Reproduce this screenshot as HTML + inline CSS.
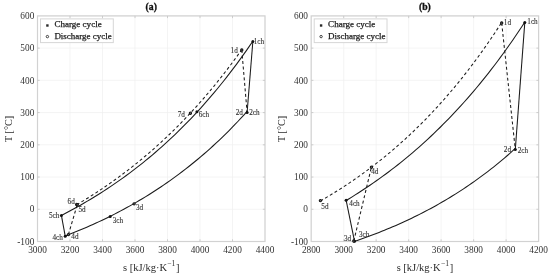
<!DOCTYPE html>
<html><head><meta charset="utf-8"><style>
html,body{margin:0;padding:0;background:#fff;}
svg{display:block;}
text{font-family:"Liberation Serif","DejaVu Serif",serif;fill:#333;}
.tl{font-size:9.3px;fill:#333;}
.lg{font-size:8.9px;fill:#1a1a1a;stroke:#1a1a1a;stroke-width:0.25px;}
.pl{font-size:7.2px;fill:#2e2e2e;stroke:#2e2e2e;stroke-width:0.1px;}
.tt{font-size:9.3px;font-weight:bold;fill:#111;stroke:#111;stroke-width:0.3px;}
.al{font-size:10.2px;fill:#2a2a2a;}
.sup{font-size:7.6px;}
</style></head><body>
<svg width="550" height="277" viewBox="0 0 550 277">
<rect width="550" height="277" fill="#fff"/>
<g stroke="#efefef" stroke-width="0.7"><line x1="37.50" y1="15.90" x2="37.50" y2="241.50"/><line x1="37.50" y1="15.90" x2="265.00" y2="15.90"/><line x1="70.00" y1="15.90" x2="70.00" y2="241.50"/><line x1="37.50" y1="48.13" x2="265.00" y2="48.13"/><line x1="102.50" y1="15.90" x2="102.50" y2="241.50"/><line x1="37.50" y1="80.36" x2="265.00" y2="80.36"/><line x1="135.00" y1="15.90" x2="135.00" y2="241.50"/><line x1="37.50" y1="112.59" x2="265.00" y2="112.59"/><line x1="167.50" y1="15.90" x2="167.50" y2="241.50"/><line x1="37.50" y1="144.81" x2="265.00" y2="144.81"/><line x1="200.00" y1="15.90" x2="200.00" y2="241.50"/><line x1="37.50" y1="177.04" x2="265.00" y2="177.04"/><line x1="232.50" y1="15.90" x2="232.50" y2="241.50"/><line x1="37.50" y1="209.27" x2="265.00" y2="209.27"/><line x1="265.00" y1="15.90" x2="265.00" y2="241.50"/><line x1="37.50" y1="241.50" x2="265.00" y2="241.50"/></g>
<g stroke="#efefef" stroke-width="0.7"><line x1="311.20" y1="15.90" x2="311.20" y2="241.50"/><line x1="311.20" y1="15.90" x2="538.60" y2="15.90"/><line x1="343.69" y1="15.90" x2="343.69" y2="241.50"/><line x1="311.20" y1="48.13" x2="538.60" y2="48.13"/><line x1="376.17" y1="15.90" x2="376.17" y2="241.50"/><line x1="311.20" y1="80.36" x2="538.60" y2="80.36"/><line x1="408.66" y1="15.90" x2="408.66" y2="241.50"/><line x1="311.20" y1="112.59" x2="538.60" y2="112.59"/><line x1="441.14" y1="15.90" x2="441.14" y2="241.50"/><line x1="311.20" y1="144.81" x2="538.60" y2="144.81"/><line x1="473.63" y1="15.90" x2="473.63" y2="241.50"/><line x1="311.20" y1="177.04" x2="538.60" y2="177.04"/><line x1="506.11" y1="15.90" x2="506.11" y2="241.50"/><line x1="311.20" y1="209.27" x2="538.60" y2="209.27"/><line x1="538.60" y1="15.90" x2="538.60" y2="241.50"/><line x1="311.20" y1="241.50" x2="538.60" y2="241.50"/></g>
<rect x="37.50" y="15.90" width="227.50" height="225.60" fill="none" stroke="#d2d2d2" stroke-width="1.2"/>
<rect x="311.20" y="15.90" width="227.40" height="225.60" fill="none" stroke="#d2d2d2" stroke-width="1.2"/>
<g stroke="#c4c4c4" stroke-width="0.8"><line x1="70.00" y1="241.50" x2="70.00" y2="239.30"/><line x1="70.00" y1="15.90" x2="70.00" y2="18.10"/><line x1="37.50" y1="48.13" x2="39.70" y2="48.13"/><line x1="265.00" y1="48.13" x2="262.80" y2="48.13"/><line x1="102.50" y1="241.50" x2="102.50" y2="239.30"/><line x1="102.50" y1="15.90" x2="102.50" y2="18.10"/><line x1="37.50" y1="80.36" x2="39.70" y2="80.36"/><line x1="265.00" y1="80.36" x2="262.80" y2="80.36"/><line x1="135.00" y1="241.50" x2="135.00" y2="239.30"/><line x1="135.00" y1="15.90" x2="135.00" y2="18.10"/><line x1="37.50" y1="112.59" x2="39.70" y2="112.59"/><line x1="265.00" y1="112.59" x2="262.80" y2="112.59"/><line x1="167.50" y1="241.50" x2="167.50" y2="239.30"/><line x1="167.50" y1="15.90" x2="167.50" y2="18.10"/><line x1="37.50" y1="144.81" x2="39.70" y2="144.81"/><line x1="265.00" y1="144.81" x2="262.80" y2="144.81"/><line x1="200.00" y1="241.50" x2="200.00" y2="239.30"/><line x1="200.00" y1="15.90" x2="200.00" y2="18.10"/><line x1="37.50" y1="177.04" x2="39.70" y2="177.04"/><line x1="265.00" y1="177.04" x2="262.80" y2="177.04"/><line x1="232.50" y1="241.50" x2="232.50" y2="239.30"/><line x1="232.50" y1="15.90" x2="232.50" y2="18.10"/><line x1="37.50" y1="209.27" x2="39.70" y2="209.27"/><line x1="265.00" y1="209.27" x2="262.80" y2="209.27"/></g>
<g stroke="#c4c4c4" stroke-width="0.8"><line x1="343.69" y1="241.50" x2="343.69" y2="239.30"/><line x1="343.69" y1="15.90" x2="343.69" y2="18.10"/><line x1="311.20" y1="48.13" x2="313.40" y2="48.13"/><line x1="538.60" y1="48.13" x2="536.40" y2="48.13"/><line x1="376.17" y1="241.50" x2="376.17" y2="239.30"/><line x1="376.17" y1="15.90" x2="376.17" y2="18.10"/><line x1="311.20" y1="80.36" x2="313.40" y2="80.36"/><line x1="538.60" y1="80.36" x2="536.40" y2="80.36"/><line x1="408.66" y1="241.50" x2="408.66" y2="239.30"/><line x1="408.66" y1="15.90" x2="408.66" y2="18.10"/><line x1="311.20" y1="112.59" x2="313.40" y2="112.59"/><line x1="538.60" y1="112.59" x2="536.40" y2="112.59"/><line x1="441.14" y1="241.50" x2="441.14" y2="239.30"/><line x1="441.14" y1="15.90" x2="441.14" y2="18.10"/><line x1="311.20" y1="144.81" x2="313.40" y2="144.81"/><line x1="538.60" y1="144.81" x2="536.40" y2="144.81"/><line x1="473.63" y1="241.50" x2="473.63" y2="239.30"/><line x1="473.63" y1="15.90" x2="473.63" y2="18.10"/><line x1="311.20" y1="177.04" x2="313.40" y2="177.04"/><line x1="538.60" y1="177.04" x2="536.40" y2="177.04"/><line x1="506.11" y1="241.50" x2="506.11" y2="239.30"/><line x1="506.11" y1="15.90" x2="506.11" y2="18.10"/><line x1="311.20" y1="209.27" x2="313.40" y2="209.27"/><line x1="538.60" y1="209.27" x2="536.40" y2="209.27"/></g>
<g class="tl"><text x="37.50" y="253.10" text-anchor="middle">3000</text><text x="70.00" y="253.10" text-anchor="middle">3200</text><text x="102.50" y="253.10" text-anchor="middle">3400</text><text x="135.00" y="253.10" text-anchor="middle">3600</text><text x="167.50" y="253.10" text-anchor="middle">3800</text><text x="200.00" y="253.10" text-anchor="middle">4000</text><text x="232.50" y="253.10" text-anchor="middle">4200</text><text x="265.00" y="253.10" text-anchor="middle">4400</text><text x="34.30" y="19.10" text-anchor="end">600</text><text x="34.30" y="51.33" text-anchor="end">500</text><text x="34.30" y="83.56" text-anchor="end">400</text><text x="34.30" y="115.79" text-anchor="end">300</text><text x="34.30" y="148.01" text-anchor="end">200</text><text x="34.30" y="180.24" text-anchor="end">100</text><text x="34.30" y="212.47" text-anchor="end">0</text><text x="34.30" y="244.70" text-anchor="end">-100</text></g>
<g class="tl"><text x="311.20" y="253.10" text-anchor="middle">2800</text><text x="343.69" y="253.10" text-anchor="middle">3000</text><text x="376.17" y="253.10" text-anchor="middle">3200</text><text x="408.66" y="253.10" text-anchor="middle">3400</text><text x="441.14" y="253.10" text-anchor="middle">3600</text><text x="473.63" y="253.10" text-anchor="middle">3800</text><text x="506.11" y="253.10" text-anchor="middle">4000</text><text x="538.60" y="253.10" text-anchor="middle">4200</text><text x="308.00" y="19.10" text-anchor="end">600</text><text x="308.00" y="51.33" text-anchor="end">500</text><text x="308.00" y="83.56" text-anchor="end">400</text><text x="308.00" y="115.79" text-anchor="end">300</text><text x="308.00" y="148.01" text-anchor="end">200</text><text x="308.00" y="180.24" text-anchor="end">100</text><text x="308.00" y="212.47" text-anchor="end">0</text><text x="308.00" y="244.70" text-anchor="end">-100</text></g>
<g fill="none" stroke="#1a1a1a" stroke-width="1.05" stroke-linejoin="round"><path d="M61.40 215.44 L64.64 213.76 L67.89 212.06 L71.13 210.32 L74.38 208.55 L77.62 206.75 L80.87 204.92 L84.11 203.05 L87.36 201.16 L90.60 199.22 L93.85 197.25 L97.09 195.25 L100.34 193.21 L103.58 191.13 L106.83 189.01 L110.07 186.86 L113.32 184.67 L116.56 182.43 L119.81 180.16 L123.05 177.84 L126.30 175.49 L129.54 173.09 L132.79 170.65 L136.03 168.16 L139.28 165.63 L142.52 163.05 L145.77 160.43 L149.01 157.75 L152.26 155.03 L155.50 152.26 L158.75 149.44 L161.99 146.57 L165.24 143.65 L168.48 140.67 L171.73 137.64 L174.97 134.56 L178.22 131.42 L181.46 128.22 L184.71 124.97 L187.95 121.65 L191.20 118.28 L194.44 114.84 L197.69 111.34 L200.93 107.78 L204.18 104.16 L207.42 100.46 L210.67 96.71 L213.91 92.88 L217.16 88.98 L220.40 85.02 L223.65 80.98 L226.89 76.87 L230.14 72.68 L233.38 68.42 L236.63 64.08 L239.87 59.66 L243.12 55.16 L246.36 50.59 L249.61 45.92 L252.85 41.18"/><path d="M65.20 235.97 L68.28 234.78 L71.37 233.57 L74.45 232.34 L77.53 231.09 L80.62 229.81 L83.70 228.51 L86.78 227.18 L89.86 225.83 L92.95 224.46 L96.03 223.06 L99.11 221.64 L102.20 220.19 L105.28 218.71 L108.36 217.20 L111.45 215.67 L114.53 214.11 L117.61 212.52 L120.69 210.90 L123.78 209.26 L126.86 207.58 L129.94 205.87 L133.03 204.13 L136.11 202.36 L139.19 200.55 L142.28 198.71 L145.36 196.84 L148.44 194.94 L151.53 193.00 L154.61 191.02 L157.69 189.01 L160.77 186.96 L163.86 184.87 L166.94 182.75 L170.02 180.58 L173.11 178.38 L176.19 176.13 L179.27 173.85 L182.36 171.52 L185.44 169.15 L188.52 166.74 L191.61 164.28 L194.69 161.77 L197.77 159.23 L200.85 156.63 L203.94 153.99 L207.02 151.29 L210.10 148.55 L213.19 145.76 L216.27 142.92 L219.35 140.02 L222.44 137.08 L225.52 134.07 L228.60 131.02 L231.68 127.90 L234.77 124.73 L237.85 121.50 L240.93 118.22 L244.02 114.87 L247.10 111.46"/><path d="M252.85 41.50 L247.10 112.50"/><path d="M65.20 236.20 L61.40 215.40"/><path d="M346.10 200.53 L349.13 198.69 L352.16 196.83 L355.19 194.93 L358.22 193.00 L361.24 191.05 L364.27 189.06 L367.30 187.04 L370.33 184.99 L373.36 182.90 L376.39 180.78 L379.42 178.63 L382.45 176.44 L385.47 174.22 L388.50 171.96 L391.53 169.67 L394.56 167.33 L397.59 164.97 L400.62 162.56 L403.65 160.11 L406.68 157.63 L409.71 155.10 L412.73 152.53 L415.76 149.93 L418.79 147.28 L421.82 144.59 L424.85 141.85 L427.88 139.07 L430.91 136.25 L433.94 133.38 L436.96 130.46 L439.99 127.50 L443.02 124.49 L446.05 121.43 L449.08 118.33 L452.11 115.17 L455.14 111.96 L458.17 108.70 L461.19 105.39 L464.22 102.02 L467.25 98.60 L470.28 95.13 L473.31 91.60 L476.34 88.01 L479.37 84.36 L482.40 80.66 L485.43 76.90 L488.45 73.07 L491.48 69.19 L494.51 65.24 L497.54 61.23 L500.57 57.15 L503.60 53.01 L506.63 48.80 L509.66 44.53 L512.68 40.18 L515.71 35.77 L518.74 31.28 L521.77 26.73 L524.80 22.10"/><path d="M354.50 241.37 L357.23 240.44 L359.95 239.49 L362.68 238.53 L365.40 237.56 L368.13 236.56 L370.85 235.55 L373.58 234.52 L376.30 233.48 L379.03 232.41 L381.75 231.33 L384.48 230.23 L387.21 229.11 L389.93 227.98 L392.66 226.82 L395.38 225.65 L398.11 224.45 L400.83 223.23 L403.56 222.00 L406.28 220.74 L409.01 219.46 L411.73 218.16 L414.46 216.84 L417.18 215.50 L419.91 214.13 L422.64 212.74 L425.36 211.32 L428.09 209.89 L430.81 208.42 L433.54 206.94 L436.26 205.43 L438.99 203.89 L441.71 202.33 L444.44 200.74 L447.16 199.12 L449.89 197.48 L452.62 195.80 L455.34 194.10 L458.07 192.37 L460.79 190.62 L463.52 188.83 L466.24 187.01 L468.97 185.16 L471.69 183.28 L474.42 181.37 L477.14 179.43 L479.87 177.45 L482.59 175.44 L485.32 173.39 L488.05 171.32 L490.77 169.20 L493.50 167.05 L496.22 164.87 L498.95 162.64 L501.67 160.38 L504.40 158.08 L507.12 155.75 L509.85 153.37 L512.57 150.95 L515.30 148.49"/><path d="M524.80 22.40 L515.30 149.50"/><path d="M354.50 241.20 L346.10 200.20"/></g>
<g fill="none" stroke="#1a1a1a" stroke-width="1.05" stroke-dasharray="3 2.5"><path d="M76.70 204.72 L79.50 203.07 L82.30 201.39 L85.09 199.68 L87.89 197.95 L90.69 196.19 L93.49 194.41 L96.29 192.60 L99.09 190.77 L101.88 188.90 L104.68 187.01 L107.48 185.09 L110.28 183.14 L113.08 181.16 L115.88 179.16 L118.67 177.12 L121.47 175.05 L124.27 172.95 L127.07 170.82 L129.87 168.66 L132.67 166.46 L135.46 164.23 L138.26 161.97 L141.06 159.68 L143.86 157.35 L146.66 154.98 L149.46 152.58 L152.25 150.15 L155.05 147.68 L157.85 145.17 L160.65 142.62 L163.45 140.04 L166.25 137.41 L169.04 134.75 L171.84 132.05 L174.64 129.31 L177.44 126.52 L180.24 123.70 L183.04 120.83 L185.83 117.92 L188.63 114.96 L191.43 111.96 L194.23 108.92 L197.03 105.83 L199.83 102.70 L202.62 99.51 L205.42 96.28 L208.22 93.00 L211.02 89.68 L213.82 86.30 L216.62 82.87 L219.41 79.39 L222.21 75.86 L225.01 72.28 L227.81 68.64 L230.61 64.95 L233.41 61.20 L236.20 57.40 L239.00 53.54 L241.80 49.62"/><path d="M241.80 50.00 L247.10 112.50"/><path d="M68.40 234.60 L77.20 204.80"/><path d="M320.40 200.94 L323.47 199.16 L326.55 197.36 L329.62 195.53 L332.69 193.66 L335.76 191.76 L338.84 189.83 L341.91 187.87 L344.98 185.87 L348.06 183.84 L351.13 181.78 L354.20 179.68 L357.27 177.54 L360.35 175.37 L363.42 173.15 L366.49 170.91 L369.57 168.62 L372.64 166.29 L375.71 163.92 L378.78 161.52 L381.86 159.07 L384.93 156.58 L388.00 154.04 L391.08 151.46 L394.15 148.84 L397.22 146.18 L400.29 143.46 L403.37 140.71 L406.44 137.90 L409.51 135.05 L412.59 132.14 L415.66 129.19 L418.73 126.19 L421.81 123.13 L424.88 120.02 L427.95 116.86 L431.02 113.65 L434.10 110.38 L437.17 107.05 L440.24 103.67 L443.32 100.23 L446.39 96.73 L449.46 93.16 L452.53 89.54 L455.61 85.86 L458.68 82.11 L461.75 78.30 L464.83 74.42 L467.90 70.48 L470.97 66.47 L474.04 62.39 L477.12 58.24 L480.19 54.02 L483.26 49.73 L486.34 45.36 L489.41 40.92 L492.48 36.40 L495.55 31.80 L498.63 27.13 L501.70 22.37"/><path d="M501.70 23.00 L515.30 149.50"/><path d="M353.80 241.00 L371.40 167.20"/></g>
<circle cx="252.85" cy="41.50" r="1.5" fill="#111"/>
<circle cx="241.80" cy="50.00" r="1.15" fill="#777" stroke="#111" stroke-width="1.05"/>
<circle cx="247.10" cy="112.50" r="1.5" fill="#111"/>
<circle cx="196.90" cy="111.80" r="1.5" fill="#111"/>
<circle cx="190.40" cy="113.20" r="1.15" fill="#777" stroke="#111" stroke-width="1.05"/>
<circle cx="61.40" cy="215.40" r="1.5" fill="#111"/>
<circle cx="76.70" cy="204.40" r="1.15" fill="#777" stroke="#111" stroke-width="1.05"/>
<circle cx="77.20" cy="204.80" r="1.15" fill="#777" stroke="#111" stroke-width="1.05"/>
<circle cx="65.20" cy="236.20" r="1.5" fill="#111"/>
<circle cx="68.40" cy="234.60" r="1.15" fill="#777" stroke="#111" stroke-width="1.05"/>
<circle cx="110.20" cy="216.50" r="1.5" fill="#111"/>
<circle cx="134.10" cy="203.80" r="1.15" fill="#777" stroke="#111" stroke-width="1.05"/>
<circle cx="524.80" cy="22.40" r="1.5" fill="#111"/>
<circle cx="501.70" cy="23.00" r="1.15" fill="#777" stroke="#111" stroke-width="1.05"/>
<circle cx="515.30" cy="149.50" r="1.5" fill="#111"/>
<circle cx="354.50" cy="241.20" r="1.5" fill="#111"/>
<circle cx="353.80" cy="241.00" r="1.15" fill="#777" stroke="#111" stroke-width="1.05"/>
<circle cx="346.10" cy="200.20" r="1.5" fill="#111"/>
<circle cx="371.40" cy="167.20" r="1.15" fill="#777" stroke="#111" stroke-width="1.05"/>
<circle cx="320.40" cy="200.60" r="1.15" fill="#777" stroke="#111" stroke-width="1.05"/>
<text class="pl" x="253.70" y="44.20" text-anchor="start">1ch</text><text class="pl" x="237.80" y="53.00" text-anchor="end">1d</text><text class="pl" x="242.90" y="115.40" text-anchor="end">2d</text><text class="pl" x="249.20" y="115.40" text-anchor="start">2ch</text><text class="pl" x="184.90" y="117.00" text-anchor="end">7d</text><text class="pl" x="198.70" y="117.00" text-anchor="start">6ch</text><text class="pl" x="74.80" y="203.60" text-anchor="end">6d</text><text class="pl" x="78.50" y="211.90" text-anchor="start">5d</text><text class="pl" x="59.30" y="218.00" text-anchor="end">5ch</text><text class="pl" x="62.90" y="239.80" text-anchor="end">4ch</text><text class="pl" x="71.30" y="238.80" text-anchor="start">4d</text><text class="pl" x="112.70" y="223.30" text-anchor="start">3ch</text><text class="pl" x="136.00" y="209.80" text-anchor="start">3d</text><text class="pl" x="503.80" y="24.60" text-anchor="start">1d</text><text class="pl" x="527.30" y="24.30" text-anchor="start">1ch</text><text class="pl" x="511.00" y="151.80" text-anchor="end">2d</text><text class="pl" x="517.70" y="153.20" text-anchor="start">2ch</text><text class="pl" x="321.30" y="209.00" text-anchor="start">5d</text><text class="pl" x="349.30" y="206.00" text-anchor="start">4ch</text><text class="pl" x="371.20" y="174.00" text-anchor="start">4d</text><text class="pl" x="351.10" y="240.70" text-anchor="end">3d</text><text class="pl" x="358.90" y="237.40" text-anchor="start">3ch</text>
<rect x="40.50" y="18.9" width="72.8" height="23.7" fill="#fff" stroke="#d6d6d6" stroke-width="1.0"/><rect x="46.20" y="24.3" width="2.4" height="2.4" fill="#2a2a2a"/><circle cx="47.40" cy="36.6" r="1.2" fill="none" stroke="#222" stroke-width="0.85"/><text class="lg" x="54.40" y="27.0" textLength="47.3" lengthAdjust="spacingAndGlyphs">Charge cycle</text><text class="lg" x="54.40" y="38.8" textLength="57.3" lengthAdjust="spacingAndGlyphs">Discharge cycle</text>
<rect x="314.20" y="18.9" width="72.8" height="23.7" fill="#fff" stroke="#d6d6d6" stroke-width="1.0"/><rect x="319.90" y="24.3" width="2.4" height="2.4" fill="#2a2a2a"/><circle cx="321.10" cy="36.6" r="1.2" fill="none" stroke="#222" stroke-width="0.85"/><text class="lg" x="328.10" y="27.0" textLength="47.3" lengthAdjust="spacingAndGlyphs">Charge cycle</text><text class="lg" x="328.10" y="38.8" textLength="57.3" lengthAdjust="spacingAndGlyphs">Discharge cycle</text>
<text class="tt" x="151.25" y="10.2" text-anchor="middle" textLength="11.3" lengthAdjust="spacingAndGlyphs">(a)</text>
<text class="tt" x="424.90" y="10.2" text-anchor="middle" textLength="11.8" lengthAdjust="spacingAndGlyphs">(b)</text>
<text class="al" style="font-size:10.5px" x="151.25" y="270.8" text-anchor="middle">s [kJ/kg·K<tspan class="sup" dy="-4.6" dx="0.3">−1</tspan><tspan dy="4.6" dx="0.6">]</tspan></text>
<text class="al" style="font-size:10.5px" x="424.90" y="270.8" text-anchor="middle">s [kJ/kg·K<tspan class="sup" dy="-4.6" dx="0.3">−1</tspan><tspan dy="4.6" dx="0.6">]</tspan></text>
<text class="al" transform="translate(12.00 128.90) rotate(-90)" text-anchor="middle">T [°C]</text>
<text class="al" transform="translate(285.10 128.90) rotate(-90)" text-anchor="middle">T [°C]</text>
</svg>
</body></html>
